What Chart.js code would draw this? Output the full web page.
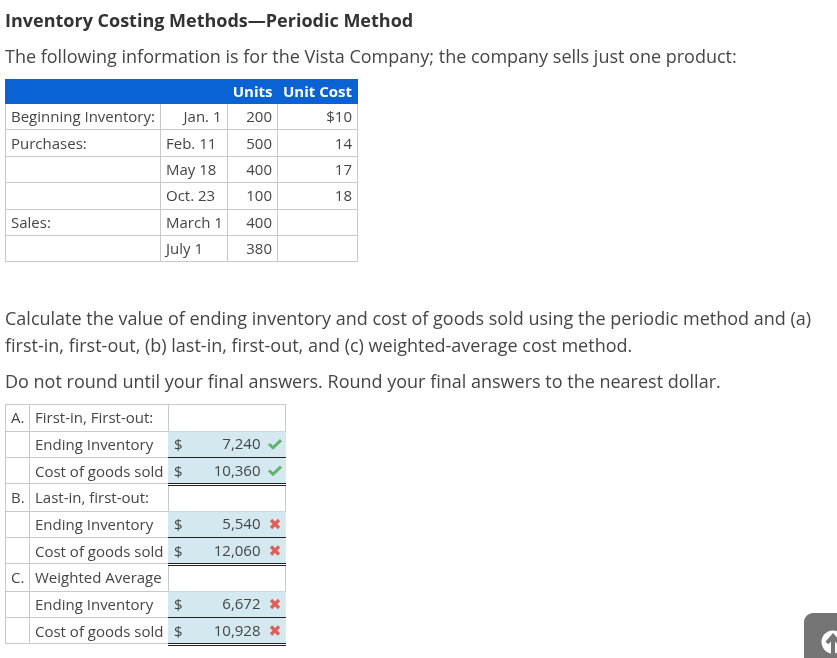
<!DOCTYPE html>
<html><head><meta charset="utf-8">
<style>html,body{margin:0;padding:0;background:#fff;overflow:hidden}canvas{display:block}</style>
<script src="https://cdn.jsdelivr.net/npm/chart.js@4"></script>
</head><body><canvas id="c" width="837" height="658"></canvas>
<script>
// ---- content ----
const title = "Inventory Costing Methods\u2014Periodic Method";
const intro = "The following information is for the Vista Company; the company sells just one product:";
const para1 = ["Calculate the value of ending inventory and cost of goods sold using the periodic method and (a)",
               "first-in, first-out, (b) last-in, first-out, and (c) weighted-average cost method."];
const para2 = "Do not round until your final answers. Round your final answers to the nearest dollar.";
const headers = ["Units", "Unit Cost"];
const groupLabels = ["Beginning Inventory:", "Purchases:", "", "", "Sales:", ""];
const dates = ["Jan. 1", "Feb. 11", "May 18", "Oct. 23", "March 1", "July 1"];
const units = ["200", "500", "400", "100", "400", "380"];
const unitCosts = ["$10", "14", "17", "18", "", ""];
const answerLetters = ["A.", "", "", "B.", "", "", "C.", "", ""];
const answerLabels = ["First-in, First-out:", "Ending Inventory", "Cost of goods sold",
                      "Last-in, first-out:", "Ending Inventory", "Cost of goods sold",
                      "Weighted Average", "Ending Inventory", "Cost of goods sold"];
const answerValues = ["", "7,240", "10,360", "", "5,540", "12,060", "", "6,672", "10,928"];
const answerMarks  = ["", "ok", "ok", "", "no", "no", "", "no", "no"];

// ---- layout (page coordinates, mapped through the chart's scales) ----
const T1X = [5.5, 160.5, 227.5, 277.5, 357.5];
const T1Y = [103.5, 129.5, 156.5, 182.5, 209.5, 235.5, 261.5];
const T1B = [121.5, 148.5, 175, 201, 227.5, 254];
const T2X = [5.5, 29.5, 168.5, 285.5];
const T2Y = [404.5, 431.5, 457.5, 483.5, 511.5, 537.5, 563.5, 591.5, 617.5, 643.5];
const T2B = [423, 450, 476.5, 503, 530, 556.5, 583, 610, 636.5];
const GRID = "#c9c9c9", TXT = "#454545", FONT = '"Open Sans"';

const tablePlugin = {
  id: "tablePlugin",
  afterDraw(chart) {
    const g = chart.ctx, sx = chart.scales.x, sy = chart.scales.y;
    const X = v => sx.getPixelForValue(v), Y = v => sy.getPixelForValue(v);
    const text = (s, x, y, font, color, align) => {
      g.font = font; g.fillStyle = color; g.textAlign = align || "left";
      g.textBaseline = "alphabetic"; g.fillText(s, X(x), Y(y));
    };
    const rect = (x0, y0, x1, y1, c) => { g.fillStyle = c; g.fillRect(X(x0), Y(y0), X(x1) - X(x0), Y(y1) - Y(y0)); };
    const line = (x0, y0, x1, y1, c, w) => {
      g.strokeStyle = c; g.lineWidth = w || 1; g.beginPath(); g.moveTo(X(x0), Y(y0)); g.lineTo(X(x1), Y(y1)); g.stroke();
    };
    g.save();
    const body = `18px ${FONT}`, cell = `15px ${FONT}`, bold = `bold 15px ${FONT}`;
    text(title, 5, 26.5, `bold 18px ${FONT}`, "#333333");
    text(intro, 5, 62.5, body, TXT);
    text(para1[0], 5, 324.5, body, TXT);
    text(para1[1], 5, 351.5, body, TXT);
    text(para2, 5, 387.5, body, TXT);

    // first table
    T1Y.forEach(y => line(5, y, 358, y, GRID));
    T1X.forEach(x => line(x, 104, x, 262, GRID));
    rect(5, 79, 358, 104, "#0b63d3");
    text(headers[0], 272.5, 96.5, bold, "#ffffff", "right");
    text(headers[1], 352, 96.5, bold, "#ffffff", "right");
    dates.forEach((d, i) => {
      const y = T1B[i];
      text(groupLabels[i], 11, y, cell, TXT);
      if (i === 0) text(d, 221.5, y, cell, TXT, "right"); else text(d, 166, y, cell, TXT);
      text(units[i], 272, y, cell, TXT, "right");
      text(unitCosts[i], 352, y, cell, TXT, "right");
    });

    // answer table
    T2Y.forEach(y => line(5, y, 286, y, GRID));
    T2X.forEach(x => line(x, 404.5, x, 644, GRID));
    answerLabels.forEach((s, i) => {
      if (answerValues[i]) rect(168, T2Y[i], 286, T2Y[i + 1], "#d4e8f0");
    });
    answerLabels.forEach((s, i) => {
      const y = T2B[i];
      text(answerLetters[i], 11, y, cell, TXT);
      text(s, 35, y, cell, TXT);
      if (answerValues[i]) {
        text("$", 174, y, cell, TXT);
        text(answerValues[i], 260.5, y - 1, cell, TXT, "right");
        const mx = 275, my = y - 6;
        if (answerMarks[i] === "ok") {
          g.strokeStyle = "#62b26f"; g.lineWidth = 3; g.beginPath();
          g.moveTo(X(mx - 6), Y(my)); g.lineTo(X(mx - 2), Y(my + 3.8)); g.lineTo(X(mx + 6), Y(my - 3.8)); g.stroke();
        } else {
          g.strokeStyle = "#dd5f57"; g.lineWidth = 3.2; g.beginPath();
          g.moveTo(X(mx - 4), Y(my - 4)); g.lineTo(X(mx + 4), Y(my + 4));
          g.moveTo(X(mx + 4), Y(my - 4)); g.lineTo(X(mx - 4), Y(my + 4)); g.stroke();
        }
        // underline rules under the values
        const yb = T2Y[i + 1];
        line(168, yb, 286, yb, "#222222", 1);
        if (answerLabels[i] === "Cost of goods sold") {
          rect(168, yb + 0.5, 286, yb + 1.5, "#ffffff");
          line(168, yb + 2, 286, yb + 2, "#222222", 1);
        }
      }
    });

    // floating "back to top" button
    g.fillStyle = "#757575"; g.beginPath();
    g.roundRect(X(804), Y(613), X(860) - X(804), Y(680) - Y(613), 9); g.fill();
    g.fillStyle = "#ffffff"; g.beginPath(); g.arc(X(833), Y(642), 11.5, 0, 2 * Math.PI); g.fill();
    g.strokeStyle = "#757575"; g.lineWidth = 4; g.beginPath();
    g.moveTo(X(833), Y(654)); g.lineTo(X(833), Y(636));
    g.moveTo(X(827), Y(643)); g.lineTo(X(833), Y(636)); g.lineTo(X(839), Y(643)); g.stroke();
    g.restore();
  }
};

new Chart(document.getElementById("c"), {
  type: "scatter",
  data: { datasets: [{ data: [] }] },
  options: {
    responsive: false, animation: false, devicePixelRatio: 1,
    layout: { padding: 0 },
    plugins: { legend: { display: false }, tooltip: { enabled: false } },
    scales: {
      x: { type: "linear", min: 0, max: 837, display: false },
      y: { type: "linear", min: 0, max: 658, reverse: true, display: false }
    }
  },
  plugins: [tablePlugin]
});
</script></body></html>
